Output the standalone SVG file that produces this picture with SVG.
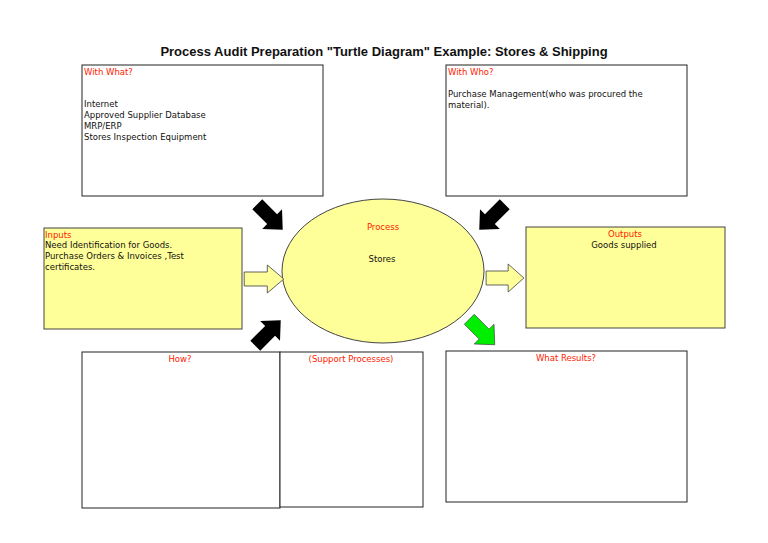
<svg xmlns="http://www.w3.org/2000/svg" width="768" height="543" viewBox="0 0 768 543">
<style>
.box{fill:#fff;stroke:#222;stroke-width:1}
.yb{fill:#ffff99;stroke:#444;stroke-width:1}
text{font-family:"DejaVu Sans","Liberation Sans",sans-serif;font-size:8.5px;fill:#111}
.r{fill:#ff2200}
.t{font-family:"Liberation Sans",Arial,sans-serif;font-weight:bold;font-size:13px}
</style>
<defs>
<polygon id="arr" points="-18,-7 3,-7 3,-14 18,0 3,14 3,7 -18,7"/>
</defs>
<rect width="768" height="543" fill="#fff"/>
<text class="t" x="384" y="56" text-anchor="middle">Process Audit Preparation "Turtle Diagram" Example: Stores &amp; Shipping</text>
<g id="withwhat"><rect class="box" x="82" y="65" width="241" height="131"/>
<text class="r" x="84" y="75">With What?</text>
<text x="84" y="107">Internet</text><text x="84" y="118">Approved Supplier Database</text><text x="84" y="129">MRP/ERP</text><text x="84" y="140">Stores Inspection Equipment</text></g>
<g id="withwho"><rect class="box" x="446" y="65" width="241" height="131"/>
<text class="r" x="448" y="75">With Who?</text>
<text x="448" y="97">Purchase Management(who was procured the</text><text x="448" y="108">material).</text></g>
<g id="inputs"><rect class="yb" x="44" y="228" width="198" height="101"/>
<text class="r" x="45" y="238">Inputs</text>
<text x="45" y="248">Need Identification for Goods.</text><text x="45" y="259">Purchase Orders &amp; Invoices ,Test</text><text x="45" y="270">certificates.</text></g>
<g id="outputs"><rect class="yb" x="526" y="227" width="199" height="101"/>
<text class="r" x="625" y="237" text-anchor="middle">Outputs</text>
<text x="624" y="248" text-anchor="middle">Goods supplied</text></g>
<g id="process"><ellipse cx="383" cy="271" rx="101" ry="72" fill="#ffff99" stroke="#444"/>
<text class="r" x="383" y="230" text-anchor="middle">Process</text>
<text x="382" y="262" text-anchor="middle">Stores</text></g>
<g id="how"><rect class="box" x="82" y="352" width="198" height="156"/>
<text class="r" x="180" y="362" text-anchor="middle">How?</text></g>
<g id="support"><rect class="box" x="280" y="352" width="143" height="155"/>
<text class="r" x="351" y="362" text-anchor="middle">(Support Processes)</text></g>
<g id="results"><rect class="box" x="446" y="351" width="241" height="151"/>
<text class="r" x="566" y="361" text-anchor="middle">What Results?</text></g>
<g id="connectors">
<use href="#arr" transform="translate(264,279) scale(1.1,1)" fill="#ffff99" stroke="#444" stroke-width="0.8"/>
<use href="#arr" transform="translate(505,278) scale(1.05,1)" fill="#ffff99" stroke="#444" stroke-width="0.8"/>
<use href="#arr" transform="translate(270,217) rotate(45)" fill="#000"/>
<use href="#arr" transform="translate(492,217) rotate(135)" fill="#000"/>
<use href="#arr" transform="translate(268,333) rotate(-45)" fill="#000"/>
<use href="#arr" transform="translate(482,332) rotate(45)" fill="#00ee00" stroke="#333" stroke-width="0.6"/>
</g>
</svg>
